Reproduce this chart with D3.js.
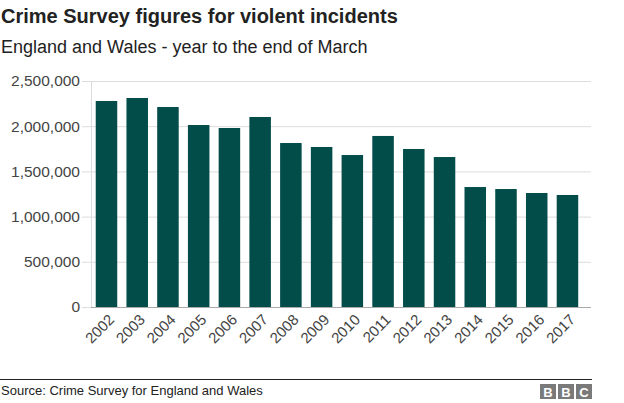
<!DOCTYPE html>
<html>
<head>
<meta charset="utf-8">
<script src="https://cdn.jsdelivr.net/npm/d3@7"></script>
<style>
  body { margin: 0; background: #fff; }
  text { font-family: "Liberation Sans", Arial, Helvetica, sans-serif; }
</style>
</head>
<body>
<svg id="vis" width="624" height="403"></svg>
<script>
// chart data
const years = ['2002', '2003', '2004', '2005', '2006', '2007', '2008', '2009',
  '2010', '2011', '2012', '2013', '2014', '2015', '2016', '2017'];
const incidents = [2279000, 2312000, 2212000, 2013000, 1980000, 2102000, 1814000, 1770000,
  1681000, 1892000, 1748000, 1659000, 1327000, 1305000, 1261000, 1239000];
const yTicks = [0, 500000, 1000000, 1500000, 2000000, 2500000];

const vis = d3.select('#vis');

const margin = { left: 91, right: 591, top: 81, bottom: 307 };

const x = d3.scaleBand()
  .domain(years)
  .range([margin.left, margin.right])
  .paddingInner(0.3)
  .paddingOuter(0.285)
  .align(0.27);

const y = d3.scaleLinear()
  .domain([0, 2500000])
  .range([margin.bottom, margin.top]);

// title + subtitle
vis.append('text')
  .attr('x', 1).attr('y', 23)
  .attr('font-size', 20).attr('font-weight', 'bold').attr('fill', '#222')
  .text('Crime Survey figures for violent incidents');

vis.append('text')
  .attr('x', 1).attr('y', 53)
  .attr('font-size', 18).attr('fill', '#222')
  .text('England and Wales - year to the end of March');

// gridlines + y labels
const yAxis = vis.append('g')
  .attr('transform', `translate(${margin.left},0)`)
  .call(d3.axisLeft(y).tickValues(yTicks).tickSize(9).tickFormat(d3.format(',')));
yAxis.select('.domain').remove();
yAxis.selectAll('.tick line').attr('stroke', '#dcdcdc');
yAxis.selectAll('.tick text')
  .attr('x', -11)
  .attr('font-size', 15.5).attr('fill', '#444')
  .style('font-family', '"Liberation Sans", Arial, sans-serif');

vis.append('g').selectAll('line')
  .data(yTicks.filter(d => d > 0))
  .enter()
  .append('line')
  .attr('x1', margin.left).attr('x2', margin.right)
  .attr('y1', d => y(d) + 0.5).attr('y2', d => y(d) + 0.5)
  .attr('stroke', '#dcdcdc');

vis.append('line')
  .attr('x1', margin.left + 0.5).attr('x2', margin.left + 0.5)
  .attr('y1', margin.top).attr('y2', margin.bottom)
  .attr('stroke', '#dcdcdc');

// bars
vis.append('g').selectAll('rect')
  .data(incidents)
  .enter()
  .append('rect')
  .attr('x', (d, i) => x(years[i]))
  .attr('y', d => y(d))
  .attr('width', x.bandwidth())
  .attr('height', d => y(0) - y(d))
  .attr('fill', '#024c49');

// baseline
vis.append('line')
  .attr('x1', margin.left).attr('x2', margin.right)
  .attr('y1', margin.bottom + 0.5).attr('y2', margin.bottom + 0.5)
  .attr('stroke', '#aaa');

// x labels, rotated
vis.append('g').selectAll('text')
  .data(years)
  .enter()
  .append('text')
  .attr('transform', d => `translate(${x(d) + x.bandwidth() / 2 + 5},${margin.bottom + 10}) rotate(-45)`)
  .attr('text-anchor', 'end')
  .attr('dy', '0.35em')
  .attr('font-size', 15).attr('fill', '#444')
  .text(d => d);

// footer
vis.append('line')
  .attr('x1', 0).attr('x2', 592)
  .attr('y1', 379.5).attr('y2', 379.5)
  .attr('stroke', '#222');

vis.append('text')
  .attr('x', 1).attr('y', 395)
  .attr('font-size', 13).attr('fill', '#222')
  .text('Source: Crime Survey for England and Wales');

const bbc = vis.append('g').attr('transform', 'translate(540,384)');
['B', 'B', 'C'].forEach((c, i) => {
  bbc.append('rect')
    .attr('x', i * 18).attr('y', 0)
    .attr('width', 16).attr('height', 15)
    .attr('fill', '#7a7a7a');
  bbc.append('text')
    .attr('x', i * 18 + 8).attr('y', 12.5)
    .attr('text-anchor', 'middle')
    .attr('font-size', 13).attr('font-weight', 'bold').attr('fill', '#fff')
    .text(c);
});
</script>
</body>
</html>
